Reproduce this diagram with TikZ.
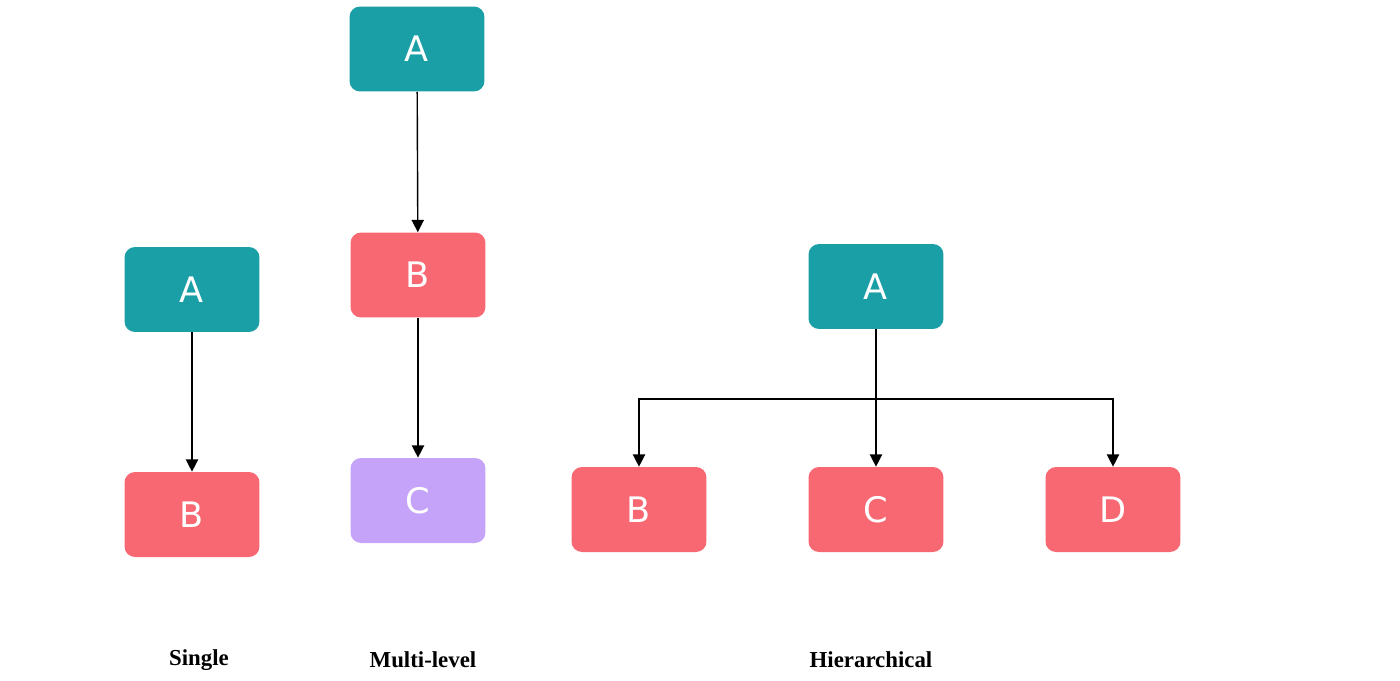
\documentclass[tikz,border=0pt]{standalone}
\usepackage{fontspec}
\setmainfont{Liberation Serif}
\newfontfamily\boxfont{DejaVu Sans}
\usetikzlibrary{arrows.meta}
\definecolor{tealbox}{HTML}{1A9FA6}
\definecolor{redbox}{HTML}{F76872}
\definecolor{purplebox}{HTML}{C4A3F8}
\tikzset{%
	box/.style={rounded corners=6pt,minimum width=2.7cm,minimum height=1.7cm,
		text=white,font=\boxfont\fontsize{20}{24}\selectfont,fill=#1},
	caption/.style={font=\bfseries\fontsize{13}{15}\selectfont},
	link/.style={-{Triangle[length=7pt,width=7pt]},line width=0.8pt}
}
\begin{document}
\begin{tikzpicture}[x=0.02cm,y=-0.02cm]
				\useasboundingbox (0,0) rectangle (1400,680);
				% single
				\node [box=tealbox] (sA) at (192,289.5) {A};
				\node [box=redbox] (sB) at (192,514.5) {B};
				\draw [link] (sA) -- (sB);
				% multi-level
				\node [box=tealbox] (mA) at (417,49) {A};
				\node [box=redbox] (mB) at (418,275) {B};
				\node [box=purplebox] (mC) at (418,500.5) {C};
				\draw [link] (mA) -- (mB);
				\draw [link] (mB) -- (mC);
				% hierarchical
				\node [box=tealbox] (hA) at (876,286.5) {A};
				\node [box=redbox] (hB) at (639,509.5) {B};
				\node [box=redbox] (hC) at (876,509.5) {C};
				\node [box=redbox] (hD) at (1113,509.5) {D};
				\coordinate (hJ) at (876,399);
				\draw [link] (hA) -- (hC);
				\draw [link] (hJ) -| (hB);
				\draw [link] (hJ) -| (hD);
				% captions
				\node [caption] (tS) at (199,660) {Single};
				\node [caption] (tM) at (423,660) {Multi-level};
				\node [caption] (tH) at (871,660) {Hierarchical};
			\end{tikzpicture}
\end{document}
